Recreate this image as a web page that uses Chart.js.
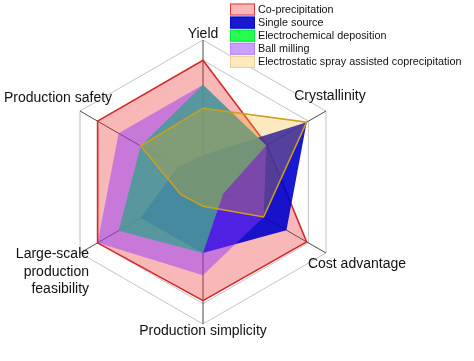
<!DOCTYPE html>
<html><head><meta charset="utf-8">
<script src="https://cdn.jsdelivr.net/npm/chart.js@4.4.1/dist/chart.umd.min.js"></script>
<style>html,body{margin:0;padding:0;background:#fff;overflow:hidden}</style>
</head><body>
<canvas id="c" width="474" height="361" style="display:block;width:474px;height:361px"></canvas>
<script>
// ---- data ----
const axisLabels = ['Yield', 'Crystallinity', 'Cost advantage', 'Production simplicity', ['Large-scale', 'production', 'feasibility'], 'Production safety'];
const seriesNames = ['Co-precipitation', 'Single source', 'Electrochemical deposition', 'Ball milling', 'Electrostatic spray assisted coprecipitation'];
const coPrecipitation = [6.0, 3.64, 5.9, 5.85, 6.0, 6.0];
const singleSource    = [1.33, 5.9, 4.75, 3.5, 3.55, 1.45];
const electrochemical = [4.8, 3.6, 1.15, 3.5, 4.8, 3.55];
const ballMilling     = [4.8, 3.6, 3.45, 4.6, 6.0, 4.8];
const electrostatic   = [3.64, 5.9, 3.45, 1.2, 1.25, 3.55];
const scaleMin = 0, scaleMax = 7, scaleStep = 1;
const visibleGridLevels = [6, 7];

// ---- styles / layout ----
const fills   = ['rgba(235,40,40,0.33)', 'rgba(0,0,205,0.9)', 'rgba(0,250,50,0.85)', 'rgba(145,50,255,0.47)', 'rgba(245,175,20,0.27)'];
const borders = ['rgb(215,40,40)', 'rgba(0,0,0,0)', 'rgba(0,0,0,0)', 'rgba(0,0,0,0)', 'rgb(205,160,25)'];
const borderW = [1.6, 1, 1, 1, 1.5];
const legendBorders = ['rgb(225,60,60)', 'rgba(0,0,205,0.9)', 'rgba(0,230,50,0.85)', 'rgba(170,110,255,0.6)', 'rgba(230,190,120,0.6)'];
const center = {x: 203, y: 182, r: 142};
const labelLayout = [
  {dx: 0, dy: -2, align: 'center'},
  {dx: 4, dy: -11, align: 'center'},
  {dx: 31, dy: 15, align: 'center'},
  {dx: 0, dy: 11, align: 'center'},
  {dx: 9, dy: 5, align: 'right'},
  {dx: -22, dy: -9, align: 'center'}
];

const seriesValues = [coPrecipitation, singleSource, electrochemical, ballMilling, electrostatic];

const textPlugin = {
  id: 'textPlugin',
  afterDraw(chart) {
    const s = chart.scales.r, ctx = chart.ctx;
    ctx.save();
    ctx.fillStyle = '#111';
    ctx.font = '14px "Liberation Sans", Arial, sans-serif';
    ctx.textBaseline = 'alphabetic';
    axisLabels.forEach((lab, i) => {
      const p = s.getPointPosition(i, s.drawingArea);
      const o = labelLayout[i];
      const lines = Array.isArray(lab) ? lab : [lab];
      ctx.textAlign = o.align;
      lines.forEach((t, k) => ctx.fillText(t, p.x + o.dx, p.y + o.dy + k * 17.5));
    });
    // legend
    ctx.font = '10.8px "Liberation Sans", Arial, sans-serif';
    ctx.textAlign = 'left';
    ctx.textBaseline = 'middle';
    chart.data.datasets.forEach((ds, i) => {
      const cy = 9.5 + i * 13.1;
      ctx.fillStyle = '#fff';
      ctx.fillRect(230, cy - 6, 25, 12);
      ctx.fillStyle = ds.backgroundColor;
      ctx.fillRect(230, cy - 6, 25, 12);
      ctx.strokeStyle = legendBorders[i];
      ctx.lineWidth = 1;
      ctx.strokeRect(230.5, cy - 5.5, 24, 11);
      ctx.fillStyle = '#111';
      ctx.fillText(ds.label, 258, cy + 0.5);
    });
    ctx.restore();
  }
};

new Chart(document.getElementById('c'), {
  type: 'radar',
  data: {
    labels: axisLabels,
    datasets: seriesValues.map((vals, i) => ({
      label: seriesNames[i],
      data: vals,
      backgroundColor: fills[i],
      borderColor: borders[i],
      borderWidth: borderW[i],
      fill: true,
      pointRadius: 0,
      pointHoverRadius: 0,
      tension: 0,
      order: seriesValues.length - i
    }))
  },
  options: {
    responsive: false,
    animation: false,
    devicePixelRatio: 1,
    layout: {padding: 0},
    plugins: {legend: {display: false}, tooltip: {enabled: false}},
    elements: {line: {borderJoinStyle: 'miter'}},
    scales: {
      r: {
        min: scaleMin, max: scaleMax,
        ticks: {display: false, stepSize: scaleStep},
        pointLabels: {display: false},
        grid: {
          color: (c) => (c.tick && visibleGridLevels.includes(c.tick.value)) ? '#c4c4c4' : 'rgba(0,0,0,0)',
          lineWidth: 1
        },
        angleLines: {color: '#4a4a4a', lineWidth: 1},
        afterFit(scale) {
          scale.xCenter = center.x;
          scale.yCenter = center.y;
          scale.drawingArea = center.r;
        }
      }
    }
  },
  plugins: [textPlugin]
});
</script>
</body></html>
